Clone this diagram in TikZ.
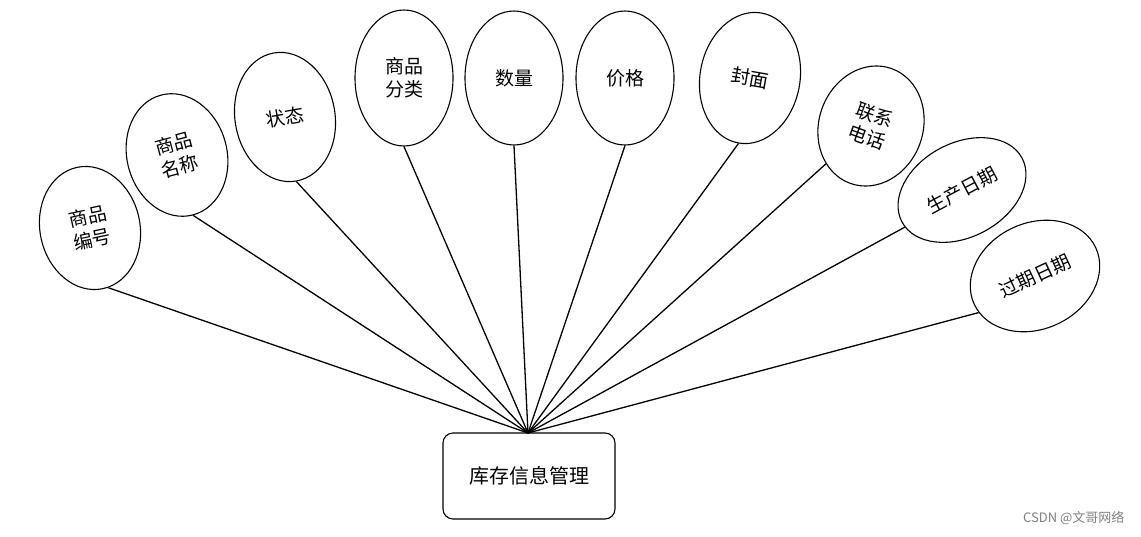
\documentclass[tikz,border=0pt]{standalone}
\usepackage{fontspec}
\newfontfamily\cjk{Noto Sans CJK SC}
\usetikzlibrary{shapes.geometric}
\begin{document}
\begin{tikzpicture}[x=1pt,y=-1pt,
  attr/.style={ellipse,draw,line width=1.1pt,inner sep=0pt,font=\cjk\fontsize{19}{23}\selectfont,align=center},
  main/.style={draw,line width=1.1pt,rounded corners=10pt,minimum width=172pt,minimum height=86pt,font=\cjk\fontsize{20}{24}\selectfont},
  link/.style={line width=1.3pt}]
\useasboundingbox (0,0) rectangle (1141,536);
\node[main] (m) at (529,476) {库存信息管理};
\coordinate (t) at (528,433);
\node[attr,minimum width=100pt,minimum height=124pt,rotate=12] (a1) at (90,228) {商品\\编号};
\node[attr,minimum width=100pt,minimum height=124pt,rotate=15] (a2) at (177,155) {商品\\名称};
\node[attr,minimum width=100pt,minimum height=130pt,rotate=10] (a3) at (285,117) {状态};
\node[attr,minimum width=98pt,minimum height=136pt] (a4) at (404,78) {商品\\分类};
\node[attr,minimum width=98pt,minimum height=134pt] (a5) at (514,78) {数量};
\node[attr,minimum width=98pt,minimum height=134pt] (a6) at (625,78) {价格};
\node[attr,minimum width=100pt,minimum height=132pt,rotate=-10] (a7) at (750,78) {封面};
\node[attr,minimum width=104pt,minimum height=122pt,rotate=-20] (a8) at (871,126) {联系\\电话};
\node[attr,minimum width=136pt,minimum height=94pt,rotate=28] (a9) at (962,190) {生产日期};
\node[attr,minimum width=134pt,minimum height=106pt,rotate=25] (a10) at (1035,276) {过期日期};
\draw[link] (t) -- (a1.-85);
\foreach \i in {2,...,7} \draw[link] (t) -- (a\i.south);
\draw[link] (t) -- (a8.-120);
\draw[link] (t) -- (a9.-175);
\draw[link] (t) -- (a10.-172);
\node[text=gray,font=\cjk\fontsize{13}{15}\selectfont,anchor=east] (wm) at (1128,518) {CSDN @文哥网络};
\end{tikzpicture}
\end{document}
